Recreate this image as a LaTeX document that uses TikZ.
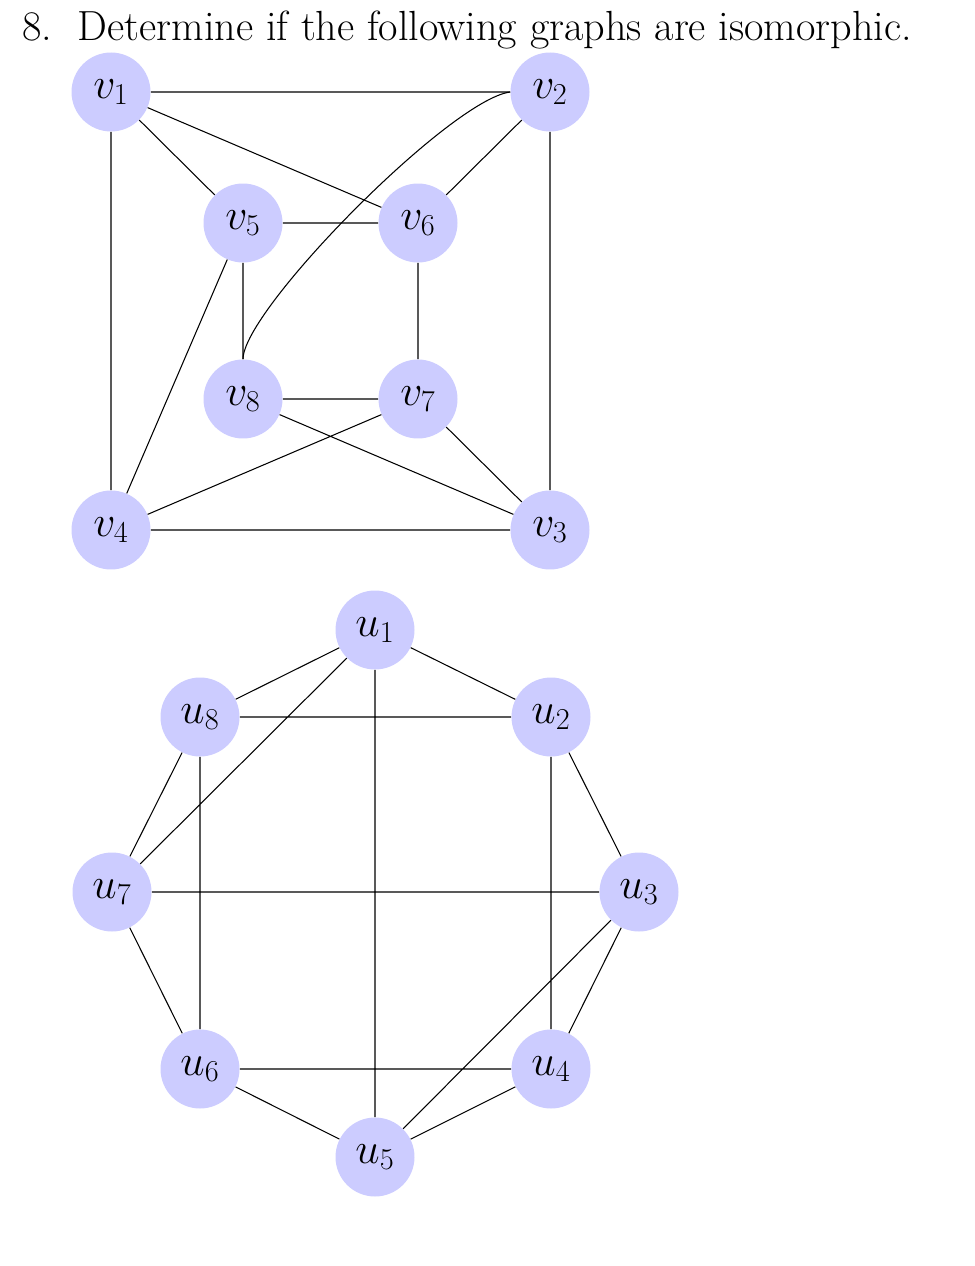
\documentclass[tikz,border=0pt]{standalone}
\begin{document}
\begin{tikzpicture}[x=0.02cm,y=-0.02cm,
  vtx/.style={circle,fill=blue!20,inner sep=0pt,minimum size=1.58cm,font=\fontsize{23}{26}\selectfont},
  edge/.style={draw,line width=0.6pt}]
\useasboundingbox (0,0) rectangle (974,1266);
\node[anchor=west,font=\fontsize{24}{28}\selectfont,inner sep=0pt] (title) at (22,30) {8.\ \ Determine if the following graphs are isomorphic.};
\node[vtx] (v1) at (111,92) {$v_1$};
\node[vtx] (v2) at (550,92) {$v_2$};
\node[vtx] (v5) at (243,223) {$v_5$};
\node[vtx] (v6) at (418,223) {$v_6$};
\node[vtx] (v8) at (243,399) {$v_8$};
\node[vtx] (v7) at (418,399) {$v_7$};
\node[vtx] (v4) at (111,530) {$v_4$};
\node[vtx] (v3) at (550,530) {$v_3$};
\path[edge] (v1)--(v2) (v1)--(v5) (v1)--(v6) (v1)--(v4) (v2)--(v6) (v2)--(v3)
 (v5)--(v6) (v5)--(v8) (v5)--(v4) (v6)--(v7) (v8)--(v7) (v8)--(v3) (v7)--(v4) (v7)--(v3) (v4)--(v3);
\path[edge] (v2.west) .. controls (450,100) and (243,310) .. (v8.north);
\node[vtx] (u1) at (375,630) {$u_1$};
\node[vtx] (u8) at (200,717) {$u_8$};
\node[vtx] (u2) at (551,717) {$u_2$};
\node[vtx] (u7) at (112,892) {$u_7$};
\node[vtx] (u3) at (639,892) {$u_3$};
\node[vtx] (u6) at (200,1069) {$u_6$};
\node[vtx] (u4) at (551,1069) {$u_4$};
\node[vtx] (u5) at (375,1157) {$u_5$};
\path[edge] (u1)--(u8) (u1)--(u2) (u1)--(u7) (u1)--(u5) (u8)--(u2) (u8)--(u7) (u8)--(u6)
 (u2)--(u3) (u2)--(u4) (u7)--(u3) (u7)--(u6) (u3)--(u4) (u3)--(u5) (u6)--(u4) (u6)--(u5) (u4)--(u5);
\end{tikzpicture}
\end{document}
